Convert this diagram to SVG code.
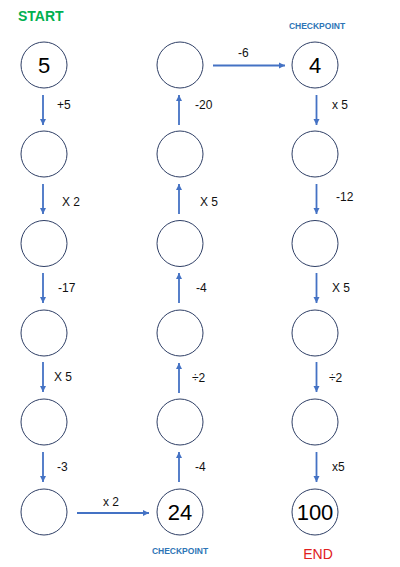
<svg xmlns="http://www.w3.org/2000/svg" width="400" height="567" viewBox="0 0 400 567">
<defs>
<style>
.c{fill:#fff;stroke:#2F3F66;stroke-width:1}
.n{font-family:"Liberation Sans",Arial,sans-serif;font-size:22px;fill:#000;text-anchor:middle;dominant-baseline:central}
.l{font-family:"Liberation Sans",Arial,sans-serif;font-size:12px;fill:#111;dominant-baseline:central}
.a{stroke:#4472C4;stroke-width:1.8;fill:none;marker-end:url(#ah)}
.cp{font-family:"Liberation Sans",Arial,sans-serif;font-size:8.5px;font-weight:bold;fill:#2E75B6;text-anchor:middle}
</style>
<marker id="ah" viewBox="0 0 10 10" refX="10" refY="5" markerWidth="3.5" markerHeight="3.5" orient="auto" markerUnits="strokeWidth">
<path d="M0,0 L10,5 L0,10 z" fill="#4472C4"/>
</marker>
</defs>
<rect width="400" height="567" fill="#fff"/>
<text x="18" y="21" style="font-family:'Liberation Sans',Arial,sans-serif;font-size:14px;font-weight:bold;fill:#00B050">START</text>
<text class="cp" x="317" y="29">CHECKPOINT</text>
<text class="cp" x="180" y="554">CHECKPOINT</text>
<text x="318" y="559" style="font-family:'Liberation Sans',Arial,sans-serif;font-size:14px;fill:#E02020;text-anchor:middle">END</text>

<g id="connectors">
<line class="a" x1="43" y1="95" x2="43" y2="125"/>
<line class="a" x1="43" y1="184" x2="43" y2="214"/>
<line class="a" x1="43" y1="273" x2="43" y2="303"/>
<line class="a" x1="43" y1="362" x2="43" y2="392"/>
<line class="a" x1="43" y1="452" x2="43" y2="482"/>
<line class="a" x1="77" y1="513" x2="149" y2="513"/>
<line class="a" x1="179" y1="482" x2="179" y2="452"/>
<line class="a" x1="179" y1="393" x2="179" y2="363"/>
<line class="a" x1="179" y1="303" x2="179" y2="273"/>
<line class="a" x1="179" y1="214" x2="179" y2="184"/>
<line class="a" x1="179" y1="125" x2="179" y2="95"/>
<line class="a" x1="213" y1="65.5" x2="285" y2="65.5"/>
<line class="a" x1="316.5" y1="95" x2="316.5" y2="125"/>
<line class="a" x1="316.5" y1="184" x2="316.5" y2="214"/>
<line class="a" x1="316.5" y1="273" x2="316.5" y2="303"/>
<line class="a" x1="316.5" y1="362" x2="316.5" y2="392"/>
<line class="a" x1="316.5" y1="452" x2="316.5" y2="482"/>
<text class="l" x="57" y="105">+5</text>
<text class="l" x="62" y="202">X 2</text>
<text class="l" x="58" y="288">-17</text>
<text class="l" x="54" y="377">X 5</text>
<text class="l" x="57" y="467">-3</text>
<text class="l" x="103" y="502">x 2</text>
<text class="l" x="195" y="467">-4</text>
<text class="l" x="192" y="378">÷2</text>
<text class="l" x="196" y="288">-4</text>
<text class="l" x="200" y="202">X 5</text>
<text class="l" x="195" y="105">-20</text>
<text class="l" x="238" y="53">-6</text>
<text class="l" x="332" y="105">x 5</text>
<text class="l" x="336" y="197">-12</text>
<text class="l" x="332" y="288">X 5</text>
<text class="l" x="329" y="378">÷2</text>
<text class="l" x="332" y="467">x5</text>
</g>

<g id="n1"><circle class="c" cx="44" cy="65" r="23"/><text class="n" x="44" y="65">5</text></g>
<g id="n2"><circle class="c" cx="44" cy="154" r="23"/></g>
<g id="n3"><circle class="c" cx="44" cy="243.5" r="23"/></g>
<g id="n4"><circle class="c" cx="44" cy="333" r="23"/></g>
<g id="n5"><circle class="c" cx="44" cy="422" r="23"/></g>
<g id="n6"><circle class="c" cx="44" cy="512" r="23"/></g>
<g id="n7"><circle class="c" cx="180" cy="512" r="23"/><text class="n" x="180" y="512">24</text></g>
<g id="n8"><circle class="c" cx="180" cy="422" r="23"/></g>
<g id="n9"><circle class="c" cx="180" cy="333" r="23"/></g>
<g id="n10"><circle class="c" cx="180" cy="243.5" r="23"/></g>
<g id="n11"><circle class="c" cx="180" cy="154" r="23"/></g>
<g id="n12"><circle class="c" cx="180" cy="65" r="23"/></g>
<g id="n13"><circle class="c" cx="315" cy="65" r="23"/><text class="n" x="315" y="65">4</text></g>
<g id="n14"><circle class="c" cx="315" cy="154" r="23"/></g>
<g id="n15"><circle class="c" cx="315" cy="243.5" r="23"/></g>
<g id="n16"><circle class="c" cx="315" cy="333" r="23"/></g>
<g id="n17"><circle class="c" cx="315" cy="422" r="23"/></g>
<g id="n18"><circle class="c" cx="315" cy="512" r="23"/><text class="n" x="315" y="512">100</text></g>
</svg>
